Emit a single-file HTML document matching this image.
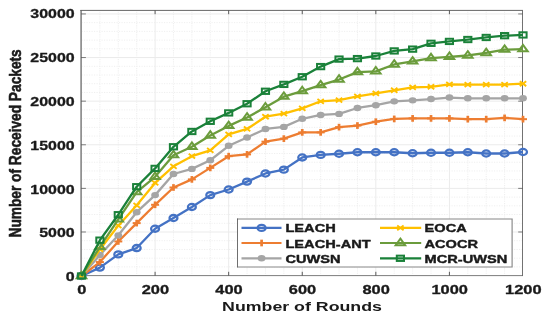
<!DOCTYPE html>
<html><head><meta charset="utf-8"><title>Number of Received Packets</title>
<style>html,body{margin:0;padding:0;background:#fff}svg{display:block}</style></head>
<body>
<svg width="550" height="315" viewBox="0 0 550 315">
<rect width="550" height="315" fill="#fff"/>
<path d="M99.90 10.4V275.6M118.29 10.4V275.6M136.69 10.4V275.6M173.48 10.4V275.6M191.88 10.4V275.6M210.27 10.4V275.6M247.06 10.4V275.6M265.46 10.4V275.6M283.85 10.4V275.6M320.65 10.4V275.6M339.04 10.4V275.6M357.44 10.4V275.6M394.23 10.4V275.6M412.62 10.4V275.6M431.02 10.4V275.6M467.81 10.4V275.6M486.21 10.4V275.6M504.60 10.4V275.6" stroke="#efefef" stroke-width="1.1" stroke-dasharray="0.9 0.9" fill="none"/>
<path d="M81.5 266.88H522.5M81.5 258.16H522.5M81.5 249.44H522.5M81.5 240.71H522.5M81.5 223.27H522.5M81.5 214.55H522.5M81.5 205.83H522.5M81.5 197.11H522.5M81.5 179.66H522.5M81.5 170.94H522.5M81.5 162.22H522.5M81.5 153.50H522.5M81.5 136.05H522.5M81.5 127.33H522.5M81.5 118.61H522.5M81.5 109.89H522.5M81.5 92.44H522.5M81.5 83.72H522.5M81.5 75.00H522.5M81.5 66.28H522.5M81.5 48.84H522.5M81.5 40.11H522.5M81.5 31.39H522.5M81.5 22.67H522.5" stroke="#efefef" stroke-width="1" stroke-dasharray="1.2 1.3" fill="none"/>
<path d="M155.08 10.4V275.6M228.67 10.4V275.6M302.25 10.4V275.6M375.83 10.4V275.6M449.42 10.4V275.6M81.5 231.99H522.5M81.5 188.38H522.5M81.5 144.78H522.5M81.5 101.17H522.5M81.5 57.56H522.5M81.5 13.95H522.5" stroke="#ebebeb" stroke-width="1" fill="none"/>
<path d="M81.1 9.9V276.0" stroke="#8c8c8c" stroke-width="1.7" fill="none"/>
<path d="M80.3 10.4H522.9" stroke="#666" stroke-width="1" fill="none"/>
<path d="M522.5 10.4V276.0" stroke="#585858" stroke-width="0.85" fill="none"/>
<path d="M80.3 275.6H522.9" stroke="#666" stroke-width="0.85" fill="none"/>
<path d="M155.08 275.6v-3.8M155.08 10.4v3.8M228.67 275.6v-3.8M228.67 10.4v3.8M302.25 275.6v-3.8M302.25 10.4v3.8M375.83 275.6v-3.8M375.83 10.4v3.8M449.42 275.6v-3.8M449.42 10.4v3.8" stroke="#4a4a4a" stroke-width="0.9" fill="none"/>
<path d="M81.1 231.99h4.8M522.5 231.99h-4.3M81.1 188.38h4.8M522.5 188.38h-4.3M81.1 144.78h4.8M522.5 144.78h-4.3M81.1 101.17h4.8M522.5 101.17h-4.3M81.1 57.56h4.8M522.5 57.56h-4.3M81.1 13.95h4.8M522.5 13.95h-4.3" stroke="#4a4a4a" stroke-width="0.7" fill="none"/>
<polyline points="81.50,275.99 99.90,267.60 118.29,254.41 136.69,248.06 155.08,228.71 173.48,218.03 191.88,206.96 210.27,195.12 228.67,189.52 247.06,181.62 265.46,173.48 283.85,169.66 302.25,157.45 320.65,154.90 339.04,153.76 357.44,152.25 375.83,152.25 394.23,152.25 412.62,153.26 431.02,152.76 449.42,152.76 467.81,152.25 486.21,153.52 504.60,153.52 523.00,152.00" fill="none" stroke="#4472C4" stroke-width="2.3" stroke-linejoin="round"/>
<ellipse cx="81.50" cy="275.99" rx="3.95" ry="3.05" fill="none" stroke="#4472C4" stroke-width="2.3"/>
<ellipse cx="99.90" cy="267.60" rx="3.95" ry="3.05" fill="none" stroke="#4472C4" stroke-width="2.3"/>
<ellipse cx="118.29" cy="254.41" rx="3.95" ry="3.05" fill="none" stroke="#4472C4" stroke-width="2.3"/>
<ellipse cx="136.69" cy="248.06" rx="3.95" ry="3.05" fill="none" stroke="#4472C4" stroke-width="2.3"/>
<ellipse cx="155.08" cy="228.71" rx="3.95" ry="3.05" fill="none" stroke="#4472C4" stroke-width="2.3"/>
<ellipse cx="173.48" cy="218.03" rx="3.95" ry="3.05" fill="none" stroke="#4472C4" stroke-width="2.3"/>
<ellipse cx="191.88" cy="206.96" rx="3.95" ry="3.05" fill="none" stroke="#4472C4" stroke-width="2.3"/>
<ellipse cx="210.27" cy="195.12" rx="3.95" ry="3.05" fill="none" stroke="#4472C4" stroke-width="2.3"/>
<ellipse cx="228.67" cy="189.52" rx="3.95" ry="3.05" fill="none" stroke="#4472C4" stroke-width="2.3"/>
<ellipse cx="247.06" cy="181.62" rx="3.95" ry="3.05" fill="none" stroke="#4472C4" stroke-width="2.3"/>
<ellipse cx="265.46" cy="173.48" rx="3.95" ry="3.05" fill="none" stroke="#4472C4" stroke-width="2.3"/>
<ellipse cx="283.85" cy="169.66" rx="3.95" ry="3.05" fill="none" stroke="#4472C4" stroke-width="2.3"/>
<ellipse cx="302.25" cy="157.45" rx="3.95" ry="3.05" fill="none" stroke="#4472C4" stroke-width="2.3"/>
<ellipse cx="320.65" cy="154.90" rx="3.95" ry="3.05" fill="none" stroke="#4472C4" stroke-width="2.3"/>
<ellipse cx="339.04" cy="153.76" rx="3.95" ry="3.05" fill="none" stroke="#4472C4" stroke-width="2.3"/>
<ellipse cx="357.44" cy="152.25" rx="3.95" ry="3.05" fill="none" stroke="#4472C4" stroke-width="2.3"/>
<ellipse cx="375.83" cy="152.25" rx="3.95" ry="3.05" fill="none" stroke="#4472C4" stroke-width="2.3"/>
<ellipse cx="394.23" cy="152.25" rx="3.95" ry="3.05" fill="none" stroke="#4472C4" stroke-width="2.3"/>
<ellipse cx="412.62" cy="153.26" rx="3.95" ry="3.05" fill="none" stroke="#4472C4" stroke-width="2.3"/>
<ellipse cx="431.02" cy="152.76" rx="3.95" ry="3.05" fill="none" stroke="#4472C4" stroke-width="2.3"/>
<ellipse cx="449.42" cy="152.76" rx="3.95" ry="3.05" fill="none" stroke="#4472C4" stroke-width="2.3"/>
<ellipse cx="467.81" cy="152.25" rx="3.95" ry="3.05" fill="none" stroke="#4472C4" stroke-width="2.3"/>
<ellipse cx="486.21" cy="153.52" rx="3.95" ry="3.05" fill="none" stroke="#4472C4" stroke-width="2.3"/>
<ellipse cx="504.60" cy="153.52" rx="3.95" ry="3.05" fill="none" stroke="#4472C4" stroke-width="2.3"/>
<ellipse cx="523.00" cy="152.00" rx="3.95" ry="3.05" fill="none" stroke="#4472C4" stroke-width="2.3"/>
<polyline points="81.50,275.99 99.90,262.06 118.29,241.44 136.69,223.11 155.08,204.79 173.48,187.48 191.88,179.39 210.27,167.89 228.67,156.18 247.06,154.39 265.46,141.67 283.85,138.62 302.25,132.39 320.65,132.39 339.04,127.16 357.44,125.54 375.83,121.71 394.23,118.92 412.62,118.40 431.02,118.40 449.42,118.40 467.81,119.17 486.21,119.17 504.60,117.89 523.00,119.17" fill="none" stroke="#ED7D31" stroke-width="2.3" stroke-linejoin="round"/>
<path d="M81.50 272.64V279.34" stroke="#ED7D31" stroke-width="2.7" fill="none"/><path d="M77.50 275.99H85.50" stroke="#ED7D31" stroke-width="2.0" fill="none"/>
<path d="M99.90 258.71V265.41" stroke="#ED7D31" stroke-width="2.7" fill="none"/><path d="M95.90 262.06H103.90" stroke="#ED7D31" stroke-width="2.0" fill="none"/>
<path d="M118.29 238.09V244.79" stroke="#ED7D31" stroke-width="2.7" fill="none"/><path d="M114.29 241.44H122.29" stroke="#ED7D31" stroke-width="2.0" fill="none"/>
<path d="M136.69 219.76V226.46" stroke="#ED7D31" stroke-width="2.7" fill="none"/><path d="M132.69 223.11H140.69" stroke="#ED7D31" stroke-width="2.0" fill="none"/>
<path d="M155.08 201.44V208.14" stroke="#ED7D31" stroke-width="2.7" fill="none"/><path d="M151.08 204.79H159.08" stroke="#ED7D31" stroke-width="2.0" fill="none"/>
<path d="M173.48 184.13V190.83" stroke="#ED7D31" stroke-width="2.7" fill="none"/><path d="M169.48 187.48H177.48" stroke="#ED7D31" stroke-width="2.0" fill="none"/>
<path d="M191.88 176.04V182.74" stroke="#ED7D31" stroke-width="2.7" fill="none"/><path d="M187.88 179.39H195.88" stroke="#ED7D31" stroke-width="2.0" fill="none"/>
<path d="M210.27 164.54V171.24" stroke="#ED7D31" stroke-width="2.7" fill="none"/><path d="M206.27 167.89H214.27" stroke="#ED7D31" stroke-width="2.0" fill="none"/>
<path d="M228.67 152.83V159.53" stroke="#ED7D31" stroke-width="2.7" fill="none"/><path d="M224.67 156.18H232.67" stroke="#ED7D31" stroke-width="2.0" fill="none"/>
<path d="M247.06 151.04V157.74" stroke="#ED7D31" stroke-width="2.7" fill="none"/><path d="M243.06 154.39H251.06" stroke="#ED7D31" stroke-width="2.0" fill="none"/>
<path d="M265.46 138.32V145.02" stroke="#ED7D31" stroke-width="2.7" fill="none"/><path d="M261.46 141.67H269.46" stroke="#ED7D31" stroke-width="2.0" fill="none"/>
<path d="M283.85 135.27V141.97" stroke="#ED7D31" stroke-width="2.7" fill="none"/><path d="M279.85 138.62H287.85" stroke="#ED7D31" stroke-width="2.0" fill="none"/>
<path d="M302.25 129.04V135.74" stroke="#ED7D31" stroke-width="2.7" fill="none"/><path d="M298.25 132.39H306.25" stroke="#ED7D31" stroke-width="2.0" fill="none"/>
<path d="M320.65 129.04V135.74" stroke="#ED7D31" stroke-width="2.7" fill="none"/><path d="M316.65 132.39H324.65" stroke="#ED7D31" stroke-width="2.0" fill="none"/>
<path d="M339.04 123.81V130.51" stroke="#ED7D31" stroke-width="2.7" fill="none"/><path d="M335.04 127.16H343.04" stroke="#ED7D31" stroke-width="2.0" fill="none"/>
<path d="M357.44 122.19V128.89" stroke="#ED7D31" stroke-width="2.7" fill="none"/><path d="M353.44 125.54H361.44" stroke="#ED7D31" stroke-width="2.0" fill="none"/>
<path d="M375.83 118.36V125.06" stroke="#ED7D31" stroke-width="2.7" fill="none"/><path d="M371.83 121.71H379.83" stroke="#ED7D31" stroke-width="2.0" fill="none"/>
<path d="M394.23 115.57V122.27" stroke="#ED7D31" stroke-width="2.7" fill="none"/><path d="M390.23 118.92H398.23" stroke="#ED7D31" stroke-width="2.0" fill="none"/>
<path d="M412.62 115.05V121.75" stroke="#ED7D31" stroke-width="2.7" fill="none"/><path d="M408.62 118.40H416.62" stroke="#ED7D31" stroke-width="2.0" fill="none"/>
<path d="M431.02 115.05V121.75" stroke="#ED7D31" stroke-width="2.7" fill="none"/><path d="M427.02 118.40H435.02" stroke="#ED7D31" stroke-width="2.0" fill="none"/>
<path d="M449.42 115.05V121.75" stroke="#ED7D31" stroke-width="2.7" fill="none"/><path d="M445.42 118.40H453.42" stroke="#ED7D31" stroke-width="2.0" fill="none"/>
<path d="M467.81 115.82V122.52" stroke="#ED7D31" stroke-width="2.7" fill="none"/><path d="M463.81 119.17H471.81" stroke="#ED7D31" stroke-width="2.0" fill="none"/>
<path d="M486.21 115.82V122.52" stroke="#ED7D31" stroke-width="2.7" fill="none"/><path d="M482.21 119.17H490.21" stroke="#ED7D31" stroke-width="2.0" fill="none"/>
<path d="M504.60 114.54V121.24" stroke="#ED7D31" stroke-width="2.7" fill="none"/><path d="M500.60 117.89H508.60" stroke="#ED7D31" stroke-width="2.0" fill="none"/>
<path d="M523.00 115.82V122.52" stroke="#ED7D31" stroke-width="2.7" fill="none"/><path d="M519.00 119.17H527.00" stroke="#ED7D31" stroke-width="2.0" fill="none"/>
<polyline points="81.50,275.99 99.90,254.93 118.29,235.33 136.69,212.18 155.08,195.12 173.48,174.00 191.88,168.91 210.27,160.26 228.67,145.80 247.06,137.45 265.46,128.95 283.85,126.91 302.25,118.76 320.65,114.95 339.04,113.90 357.44,107.98 375.83,105.18 394.23,101.36 412.62,100.35 431.02,99.07 449.42,97.55 467.81,98.31 486.21,98.31 504.60,98.31 523.00,98.31" fill="none" stroke="#A5A5A5" stroke-width="2.3" stroke-linejoin="round"/>
<ellipse cx="81.50" cy="275.99" rx="3.9" ry="3.2" fill="#A5A5A5"/>
<ellipse cx="99.90" cy="254.93" rx="3.9" ry="3.2" fill="#A5A5A5"/>
<ellipse cx="118.29" cy="235.33" rx="3.9" ry="3.2" fill="#A5A5A5"/>
<ellipse cx="136.69" cy="212.18" rx="3.9" ry="3.2" fill="#A5A5A5"/>
<ellipse cx="155.08" cy="195.12" rx="3.9" ry="3.2" fill="#A5A5A5"/>
<ellipse cx="173.48" cy="174.00" rx="3.9" ry="3.2" fill="#A5A5A5"/>
<ellipse cx="191.88" cy="168.91" rx="3.9" ry="3.2" fill="#A5A5A5"/>
<ellipse cx="210.27" cy="160.26" rx="3.9" ry="3.2" fill="#A5A5A5"/>
<ellipse cx="228.67" cy="145.80" rx="3.9" ry="3.2" fill="#A5A5A5"/>
<ellipse cx="247.06" cy="137.45" rx="3.9" ry="3.2" fill="#A5A5A5"/>
<ellipse cx="265.46" cy="128.95" rx="3.9" ry="3.2" fill="#A5A5A5"/>
<ellipse cx="283.85" cy="126.91" rx="3.9" ry="3.2" fill="#A5A5A5"/>
<ellipse cx="302.25" cy="118.76" rx="3.9" ry="3.2" fill="#A5A5A5"/>
<ellipse cx="320.65" cy="114.95" rx="3.9" ry="3.2" fill="#A5A5A5"/>
<ellipse cx="339.04" cy="113.90" rx="3.9" ry="3.2" fill="#A5A5A5"/>
<ellipse cx="357.44" cy="107.98" rx="3.9" ry="3.2" fill="#A5A5A5"/>
<ellipse cx="375.83" cy="105.18" rx="3.9" ry="3.2" fill="#A5A5A5"/>
<ellipse cx="394.23" cy="101.36" rx="3.9" ry="3.2" fill="#A5A5A5"/>
<ellipse cx="412.62" cy="100.35" rx="3.9" ry="3.2" fill="#A5A5A5"/>
<ellipse cx="431.02" cy="99.07" rx="3.9" ry="3.2" fill="#A5A5A5"/>
<ellipse cx="449.42" cy="97.55" rx="3.9" ry="3.2" fill="#A5A5A5"/>
<ellipse cx="467.81" cy="98.31" rx="3.9" ry="3.2" fill="#A5A5A5"/>
<ellipse cx="486.21" cy="98.31" rx="3.9" ry="3.2" fill="#A5A5A5"/>
<ellipse cx="504.60" cy="98.31" rx="3.9" ry="3.2" fill="#A5A5A5"/>
<ellipse cx="523.00" cy="98.31" rx="3.9" ry="3.2" fill="#A5A5A5"/>
<polyline points="81.50,275.99 99.90,249.44 118.29,225.66 136.69,205.30 155.08,182.90 173.48,166.36 191.88,156.18 210.27,150.31 228.67,134.31 247.06,128.95 265.46,116.73 283.85,113.67 302.25,108.42 320.65,101.30 339.04,100.21 357.44,96.36 375.83,93.31 394.23,90.26 412.62,87.39 431.02,86.78 449.42,84.40 467.81,84.60 486.21,84.60 504.60,84.60 523.00,83.72" fill="none" stroke="#FFC000" stroke-width="2.3" stroke-linejoin="round"/>
<path d="M78.30 273.59L84.70 278.39M78.30 278.39L84.70 273.59" stroke="#FFC000" stroke-width="1.9" fill="none"/>
<path d="M96.70 247.04L103.10 251.84M96.70 251.84L103.10 247.04" stroke="#FFC000" stroke-width="1.9" fill="none"/>
<path d="M115.09 223.26L121.49 228.06M115.09 228.06L121.49 223.26" stroke="#FFC000" stroke-width="1.9" fill="none"/>
<path d="M133.49 202.90L139.89 207.70M133.49 207.70L139.89 202.90" stroke="#FFC000" stroke-width="1.9" fill="none"/>
<path d="M151.88 180.50L158.28 185.30M151.88 185.30L158.28 180.50" stroke="#FFC000" stroke-width="1.9" fill="none"/>
<path d="M170.28 163.96L176.68 168.76M170.28 168.76L176.68 163.96" stroke="#FFC000" stroke-width="1.9" fill="none"/>
<path d="M188.68 153.78L195.07 158.58M188.68 158.58L195.07 153.78" stroke="#FFC000" stroke-width="1.9" fill="none"/>
<path d="M207.07 147.91L213.47 152.71M207.07 152.71L213.47 147.91" stroke="#FFC000" stroke-width="1.9" fill="none"/>
<path d="M225.47 131.91L231.87 136.71M225.47 136.71L231.87 131.91" stroke="#FFC000" stroke-width="1.9" fill="none"/>
<path d="M243.86 126.55L250.26 131.35M243.86 131.35L250.26 126.55" stroke="#FFC000" stroke-width="1.9" fill="none"/>
<path d="M262.26 114.33L268.66 119.13M262.26 119.13L268.66 114.33" stroke="#FFC000" stroke-width="1.9" fill="none"/>
<path d="M280.65 111.27L287.05 116.07M280.65 116.07L287.05 111.27" stroke="#FFC000" stroke-width="1.9" fill="none"/>
<path d="M299.05 106.02L305.45 110.82M299.05 110.82L305.45 106.02" stroke="#FFC000" stroke-width="1.9" fill="none"/>
<path d="M317.45 98.90L323.85 103.70M317.45 103.70L323.85 98.90" stroke="#FFC000" stroke-width="1.9" fill="none"/>
<path d="M335.84 97.81L342.24 102.61M335.84 102.61L342.24 97.81" stroke="#FFC000" stroke-width="1.9" fill="none"/>
<path d="M354.24 93.96L360.64 98.76M354.24 98.76L360.64 93.96" stroke="#FFC000" stroke-width="1.9" fill="none"/>
<path d="M372.63 90.91L379.03 95.71M372.63 95.71L379.03 90.91" stroke="#FFC000" stroke-width="1.9" fill="none"/>
<path d="M391.03 87.86L397.43 92.66M391.03 92.66L397.43 87.86" stroke="#FFC000" stroke-width="1.9" fill="none"/>
<path d="M409.43 84.99L415.82 89.79M409.43 89.79L415.82 84.99" stroke="#FFC000" stroke-width="1.9" fill="none"/>
<path d="M427.82 84.38L434.22 89.18M427.82 89.18L434.22 84.38" stroke="#FFC000" stroke-width="1.9" fill="none"/>
<path d="M446.22 82.00L452.62 86.80M446.22 86.80L452.62 82.00" stroke="#FFC000" stroke-width="1.9" fill="none"/>
<path d="M464.61 82.20L471.01 87.00M464.61 87.00L471.01 82.20" stroke="#FFC000" stroke-width="1.9" fill="none"/>
<path d="M483.01 82.20L489.41 87.00M483.01 87.00L489.41 82.20" stroke="#FFC000" stroke-width="1.9" fill="none"/>
<path d="M501.40 82.20L507.80 87.00M501.40 87.00L507.80 82.20" stroke="#FFC000" stroke-width="1.9" fill="none"/>
<path d="M519.80 81.32L526.20 86.12M519.80 86.12L526.20 81.32" stroke="#FFC000" stroke-width="1.9" fill="none"/>
<polyline points="81.50,275.99 99.90,246.80 118.29,219.32 136.69,192.08 155.08,176.82 173.48,155.18 191.88,146.78 210.27,135.53 228.67,125.91 247.06,117.51 265.46,107.33 283.85,96.66 302.25,91.06 320.65,85.18 339.04,79.54 357.44,72.12 375.83,71.33 394.23,64.47 412.62,61.42 431.02,58.13 449.42,56.78 467.81,55.48 486.21,52.99 504.60,49.69 523.00,49.19" fill="none" stroke="#6B9C3C" stroke-width="2.3" stroke-linejoin="round"/>
<path d="M81.50 271.66L86.23 278.16H76.77Z" stroke="#6B9C3C" stroke-width="2.0" fill="none" stroke-linejoin="miter"/>
<path d="M99.90 242.47L104.63 248.97H95.17Z" stroke="#6B9C3C" stroke-width="2.0" fill="none" stroke-linejoin="miter"/>
<path d="M118.29 214.99L123.02 221.49H113.56Z" stroke="#6B9C3C" stroke-width="2.0" fill="none" stroke-linejoin="miter"/>
<path d="M136.69 187.75L141.42 194.25H131.96Z" stroke="#6B9C3C" stroke-width="2.0" fill="none" stroke-linejoin="miter"/>
<path d="M155.08 172.49L159.81 178.99H150.35Z" stroke="#6B9C3C" stroke-width="2.0" fill="none" stroke-linejoin="miter"/>
<path d="M173.48 150.85L178.21 157.35H168.75Z" stroke="#6B9C3C" stroke-width="2.0" fill="none" stroke-linejoin="miter"/>
<path d="M191.88 142.45L196.60 148.95H187.15Z" stroke="#6B9C3C" stroke-width="2.0" fill="none" stroke-linejoin="miter"/>
<path d="M210.27 131.20L215.00 137.70H205.54Z" stroke="#6B9C3C" stroke-width="2.0" fill="none" stroke-linejoin="miter"/>
<path d="M228.67 121.58L233.40 128.08H223.94Z" stroke="#6B9C3C" stroke-width="2.0" fill="none" stroke-linejoin="miter"/>
<path d="M247.06 113.18L251.79 119.68H242.33Z" stroke="#6B9C3C" stroke-width="2.0" fill="none" stroke-linejoin="miter"/>
<path d="M265.46 103.00L270.19 109.50H260.73Z" stroke="#6B9C3C" stroke-width="2.0" fill="none" stroke-linejoin="miter"/>
<path d="M283.85 92.33L288.58 98.83H279.12Z" stroke="#6B9C3C" stroke-width="2.0" fill="none" stroke-linejoin="miter"/>
<path d="M302.25 86.73L306.98 93.23H297.52Z" stroke="#6B9C3C" stroke-width="2.0" fill="none" stroke-linejoin="miter"/>
<path d="M320.65 80.85L325.38 87.35H315.92Z" stroke="#6B9C3C" stroke-width="2.0" fill="none" stroke-linejoin="miter"/>
<path d="M339.04 75.21L343.77 81.71H334.31Z" stroke="#6B9C3C" stroke-width="2.0" fill="none" stroke-linejoin="miter"/>
<path d="M357.44 67.79L362.17 74.29H352.71Z" stroke="#6B9C3C" stroke-width="2.0" fill="none" stroke-linejoin="miter"/>
<path d="M375.83 67.00L380.56 73.50H371.10Z" stroke="#6B9C3C" stroke-width="2.0" fill="none" stroke-linejoin="miter"/>
<path d="M394.23 60.14L398.96 66.64H389.50Z" stroke="#6B9C3C" stroke-width="2.0" fill="none" stroke-linejoin="miter"/>
<path d="M412.62 57.09L417.36 63.59H407.89Z" stroke="#6B9C3C" stroke-width="2.0" fill="none" stroke-linejoin="miter"/>
<path d="M431.02 53.80L435.75 60.30H426.29Z" stroke="#6B9C3C" stroke-width="2.0" fill="none" stroke-linejoin="miter"/>
<path d="M449.42 52.45L454.15 58.95H444.69Z" stroke="#6B9C3C" stroke-width="2.0" fill="none" stroke-linejoin="miter"/>
<path d="M467.81 51.15L472.54 57.65H463.08Z" stroke="#6B9C3C" stroke-width="2.0" fill="none" stroke-linejoin="miter"/>
<path d="M486.21 48.66L490.94 55.16H481.48Z" stroke="#6B9C3C" stroke-width="2.0" fill="none" stroke-linejoin="miter"/>
<path d="M504.60 45.36L509.33 51.86H499.87Z" stroke="#6B9C3C" stroke-width="2.0" fill="none" stroke-linejoin="miter"/>
<path d="M523.00 44.86L527.73 51.36H518.27Z" stroke="#6B9C3C" stroke-width="2.0" fill="none" stroke-linejoin="miter"/>
<polyline points="81.50,275.99 99.90,240.16 118.29,214.72 136.69,186.72 155.08,168.40 173.48,146.76 191.88,131.48 210.27,121.30 228.67,112.91 247.06,103.74 265.46,91.27 283.85,84.39 302.25,76.75 320.65,66.59 339.04,59.09 357.44,58.60 375.83,56.00 394.23,50.92 412.62,49.12 431.02,43.32 449.42,41.42 467.81,39.52 486.21,37.47 504.60,35.68 523.00,34.93" fill="none" stroke="#1A8139" stroke-width="2.3" stroke-linejoin="round"/>
<rect x="77.90" y="273.34" width="7.20" height="5.30" stroke="#1A8139" stroke-width="2.0" fill="none"/>
<rect x="96.30" y="237.51" width="7.20" height="5.30" stroke="#1A8139" stroke-width="2.0" fill="none"/>
<rect x="114.69" y="212.07" width="7.20" height="5.30" stroke="#1A8139" stroke-width="2.0" fill="none"/>
<rect x="133.09" y="184.07" width="7.20" height="5.30" stroke="#1A8139" stroke-width="2.0" fill="none"/>
<rect x="151.48" y="165.75" width="7.20" height="5.30" stroke="#1A8139" stroke-width="2.0" fill="none"/>
<rect x="169.88" y="144.11" width="7.20" height="5.30" stroke="#1A8139" stroke-width="2.0" fill="none"/>
<rect x="188.28" y="128.83" width="7.20" height="5.30" stroke="#1A8139" stroke-width="2.0" fill="none"/>
<rect x="206.67" y="118.65" width="7.20" height="5.30" stroke="#1A8139" stroke-width="2.0" fill="none"/>
<rect x="225.07" y="110.26" width="7.20" height="5.30" stroke="#1A8139" stroke-width="2.0" fill="none"/>
<rect x="243.46" y="101.09" width="7.20" height="5.30" stroke="#1A8139" stroke-width="2.0" fill="none"/>
<rect x="261.86" y="88.62" width="7.20" height="5.30" stroke="#1A8139" stroke-width="2.0" fill="none"/>
<rect x="280.25" y="81.74" width="7.20" height="5.30" stroke="#1A8139" stroke-width="2.0" fill="none"/>
<rect x="298.65" y="74.10" width="7.20" height="5.30" stroke="#1A8139" stroke-width="2.0" fill="none"/>
<rect x="317.05" y="63.94" width="7.20" height="5.30" stroke="#1A8139" stroke-width="2.0" fill="none"/>
<rect x="335.44" y="56.44" width="7.20" height="5.30" stroke="#1A8139" stroke-width="2.0" fill="none"/>
<rect x="353.84" y="55.95" width="7.20" height="5.30" stroke="#1A8139" stroke-width="2.0" fill="none"/>
<rect x="372.23" y="53.35" width="7.20" height="5.30" stroke="#1A8139" stroke-width="2.0" fill="none"/>
<rect x="390.63" y="48.27" width="7.20" height="5.30" stroke="#1A8139" stroke-width="2.0" fill="none"/>
<rect x="409.02" y="46.47" width="7.20" height="5.30" stroke="#1A8139" stroke-width="2.0" fill="none"/>
<rect x="427.42" y="40.67" width="7.20" height="5.30" stroke="#1A8139" stroke-width="2.0" fill="none"/>
<rect x="445.82" y="38.77" width="7.20" height="5.30" stroke="#1A8139" stroke-width="2.0" fill="none"/>
<rect x="464.21" y="36.87" width="7.20" height="5.30" stroke="#1A8139" stroke-width="2.0" fill="none"/>
<rect x="482.61" y="34.82" width="7.20" height="5.30" stroke="#1A8139" stroke-width="2.0" fill="none"/>
<rect x="501.00" y="33.03" width="7.20" height="5.30" stroke="#1A8139" stroke-width="2.0" fill="none"/>
<rect x="519.40" y="32.28" width="7.20" height="5.30" stroke="#1A8139" stroke-width="2.0" fill="none"/>
<rect x="237.5" y="219.0" width="274.6" height="48.0" fill="#fff"/>
<path d="M237.1 219.0H512.7M512.1 219.0V267.6M512.1 267.0H237.5" fill="none" stroke="#888" stroke-width="1.15"/>
<path d="M237.5 218.5V267.5" fill="none" stroke="#4a4a4a" stroke-width="0.8"/>
<path d="M241.5 227.9H281.5" stroke="#4472C4" stroke-width="2.2"/>
<ellipse cx="261.60" cy="227.90" rx="3.95" ry="3.05" fill="none" stroke="#4472C4" stroke-width="2.3"/>
<text transform="translate(285.40 232.00) scale(1.33 1)" font-size="11.0" text-anchor="start" font-family="Liberation Sans, Arial, Helvetica, sans-serif" font-weight="bold" fill="#1a1a1a" stroke="#1a1a1a" stroke-width="0.4" stroke-linejoin="round">LEACH</text>
<path d="M241.5 243.0H281.5" stroke="#ED7D31" stroke-width="2.2"/>
<path d="M261.60 239.65V246.35" stroke="#ED7D31" stroke-width="2.7" fill="none"/><path d="M257.60 243.00H265.60" stroke="#ED7D31" stroke-width="2.0" fill="none"/>
<text transform="translate(285.40 247.60) scale(1.33 1)" font-size="11.0" text-anchor="start" font-family="Liberation Sans, Arial, Helvetica, sans-serif" font-weight="bold" fill="#1a1a1a" stroke="#1a1a1a" stroke-width="0.4" stroke-linejoin="round">LEACH-ANT</text>
<path d="M241.5 258.3H281.5" stroke="#A5A5A5" stroke-width="2.2"/>
<ellipse cx="261.60" cy="258.30" rx="3.9" ry="3.2" fill="#A5A5A5"/>
<text transform="translate(285.40 262.60) scale(1.33 1)" font-size="11.0" text-anchor="start" font-family="Liberation Sans, Arial, Helvetica, sans-serif" font-weight="bold" fill="#1a1a1a" stroke="#1a1a1a" stroke-width="0.4" stroke-linejoin="round">CUWSN</text>
<path d="M380.0 227.9H421.2" stroke="#FFC000" stroke-width="2.2"/>
<path d="M397.20 225.50L403.60 230.30M397.20 230.30L403.60 225.50" stroke="#FFC000" stroke-width="1.9" fill="none"/>
<text transform="translate(424.50 232.00) scale(1.33 1)" font-size="11.0" text-anchor="start" font-family="Liberation Sans, Arial, Helvetica, sans-serif" font-weight="bold" fill="#1a1a1a" stroke="#1a1a1a" stroke-width="0.4" stroke-linejoin="round">EOCA</text>
<path d="M380.0 243.0H421.2" stroke="#6B9C3C" stroke-width="2.2"/>
<path d="M400.40 238.67L405.13 245.17H395.67Z" stroke="#6B9C3C" stroke-width="2.0" fill="none" stroke-linejoin="miter"/>
<text transform="translate(424.50 247.60) scale(1.33 1)" font-size="11.0" text-anchor="start" font-family="Liberation Sans, Arial, Helvetica, sans-serif" font-weight="bold" fill="#1a1a1a" stroke="#1a1a1a" stroke-width="0.4" stroke-linejoin="round">ACOCR</text>
<path d="M380.0 258.3H421.2" stroke="#1A8139" stroke-width="2.2"/>
<rect x="396.80" y="255.65" width="7.20" height="5.30" stroke="#1A8139" stroke-width="2.0" fill="none"/>
<text transform="translate(424.50 262.60) scale(1.33 1)" font-size="11.0" text-anchor="start" font-family="Liberation Sans, Arial, Helvetica, sans-serif" font-weight="bold" fill="#1a1a1a" stroke="#1a1a1a" stroke-width="0.4" stroke-linejoin="round">MCR-UWSN</text>
<text transform="translate(81.80 293.65) scale(1.38 1)" font-size="11.9" text-anchor="middle" font-family="Liberation Sans, Arial, Helvetica, sans-serif" font-weight="bold" fill="#1a1a1a" stroke="#1a1a1a" stroke-width="0.3" stroke-linejoin="round">0</text>
<text transform="translate(155.38 293.65) scale(1.38 1)" font-size="11.9" text-anchor="middle" font-family="Liberation Sans, Arial, Helvetica, sans-serif" font-weight="bold" fill="#1a1a1a" stroke="#1a1a1a" stroke-width="0.3" stroke-linejoin="round">200</text>
<text transform="translate(228.97 293.65) scale(1.38 1)" font-size="11.9" text-anchor="middle" font-family="Liberation Sans, Arial, Helvetica, sans-serif" font-weight="bold" fill="#1a1a1a" stroke="#1a1a1a" stroke-width="0.3" stroke-linejoin="round">400</text>
<text transform="translate(302.55 293.65) scale(1.38 1)" font-size="11.9" text-anchor="middle" font-family="Liberation Sans, Arial, Helvetica, sans-serif" font-weight="bold" fill="#1a1a1a" stroke="#1a1a1a" stroke-width="0.3" stroke-linejoin="round">600</text>
<text transform="translate(376.13 293.65) scale(1.38 1)" font-size="11.9" text-anchor="middle" font-family="Liberation Sans, Arial, Helvetica, sans-serif" font-weight="bold" fill="#1a1a1a" stroke="#1a1a1a" stroke-width="0.3" stroke-linejoin="round">800</text>
<text transform="translate(449.72 293.65) scale(1.38 1)" font-size="11.9" text-anchor="middle" font-family="Liberation Sans, Arial, Helvetica, sans-serif" font-weight="bold" fill="#1a1a1a" stroke="#1a1a1a" stroke-width="0.3" stroke-linejoin="round">1000</text>
<text transform="translate(523.30 293.65) scale(1.38 1)" font-size="11.9" text-anchor="middle" font-family="Liberation Sans, Arial, Helvetica, sans-serif" font-weight="bold" fill="#1a1a1a" stroke="#1a1a1a" stroke-width="0.3" stroke-linejoin="round">1200</text>
<text transform="translate(74.60 281.20) scale(1.34 1)" font-size="11.9" text-anchor="end" font-family="Liberation Sans, Arial, Helvetica, sans-serif" font-weight="bold" fill="#1a1a1a" stroke="#1a1a1a" stroke-width="0.3" stroke-linejoin="round">0</text>
<text transform="translate(74.60 237.41) scale(1.34 1)" font-size="11.9" text-anchor="end" font-family="Liberation Sans, Arial, Helvetica, sans-serif" font-weight="bold" fill="#1a1a1a" stroke="#1a1a1a" stroke-width="0.3" stroke-linejoin="round">5000</text>
<text transform="translate(74.60 193.62) scale(1.34 1)" font-size="11.9" text-anchor="end" font-family="Liberation Sans, Arial, Helvetica, sans-serif" font-weight="bold" fill="#1a1a1a" stroke="#1a1a1a" stroke-width="0.3" stroke-linejoin="round">10000</text>
<text transform="translate(74.60 149.82) scale(1.34 1)" font-size="11.9" text-anchor="end" font-family="Liberation Sans, Arial, Helvetica, sans-serif" font-weight="bold" fill="#1a1a1a" stroke="#1a1a1a" stroke-width="0.3" stroke-linejoin="round">15000</text>
<text transform="translate(74.60 106.03) scale(1.34 1)" font-size="11.9" text-anchor="end" font-family="Liberation Sans, Arial, Helvetica, sans-serif" font-weight="bold" fill="#1a1a1a" stroke="#1a1a1a" stroke-width="0.3" stroke-linejoin="round">20000</text>
<text transform="translate(74.60 62.24) scale(1.34 1)" font-size="11.9" text-anchor="end" font-family="Liberation Sans, Arial, Helvetica, sans-serif" font-weight="bold" fill="#1a1a1a" stroke="#1a1a1a" stroke-width="0.3" stroke-linejoin="round">25000</text>
<text transform="translate(74.60 18.45) scale(1.34 1)" font-size="11.9" text-anchor="end" font-family="Liberation Sans, Arial, Helvetica, sans-serif" font-weight="bold" fill="#1a1a1a" stroke="#1a1a1a" stroke-width="0.3" stroke-linejoin="round">30000</text>
<text transform="translate(302.00 311.00) scale(1.4 1)" font-size="12.7" text-anchor="middle" font-family="Liberation Sans, Arial, Helvetica, sans-serif" font-weight="bold" fill="#1a1a1a">Number of Rounds</text>
<text transform="translate(20.75 143.4) scale(1.25 1) rotate(-90)" font-size="13.72" text-anchor="middle" font-family="Liberation Sans, Arial, Helvetica, sans-serif" font-weight="bold" fill="#1a1a1a" stroke="#1a1a1a" stroke-width="0.45" stroke-linejoin="round">Number of Received Packets</text>
</svg>
</body></html>
